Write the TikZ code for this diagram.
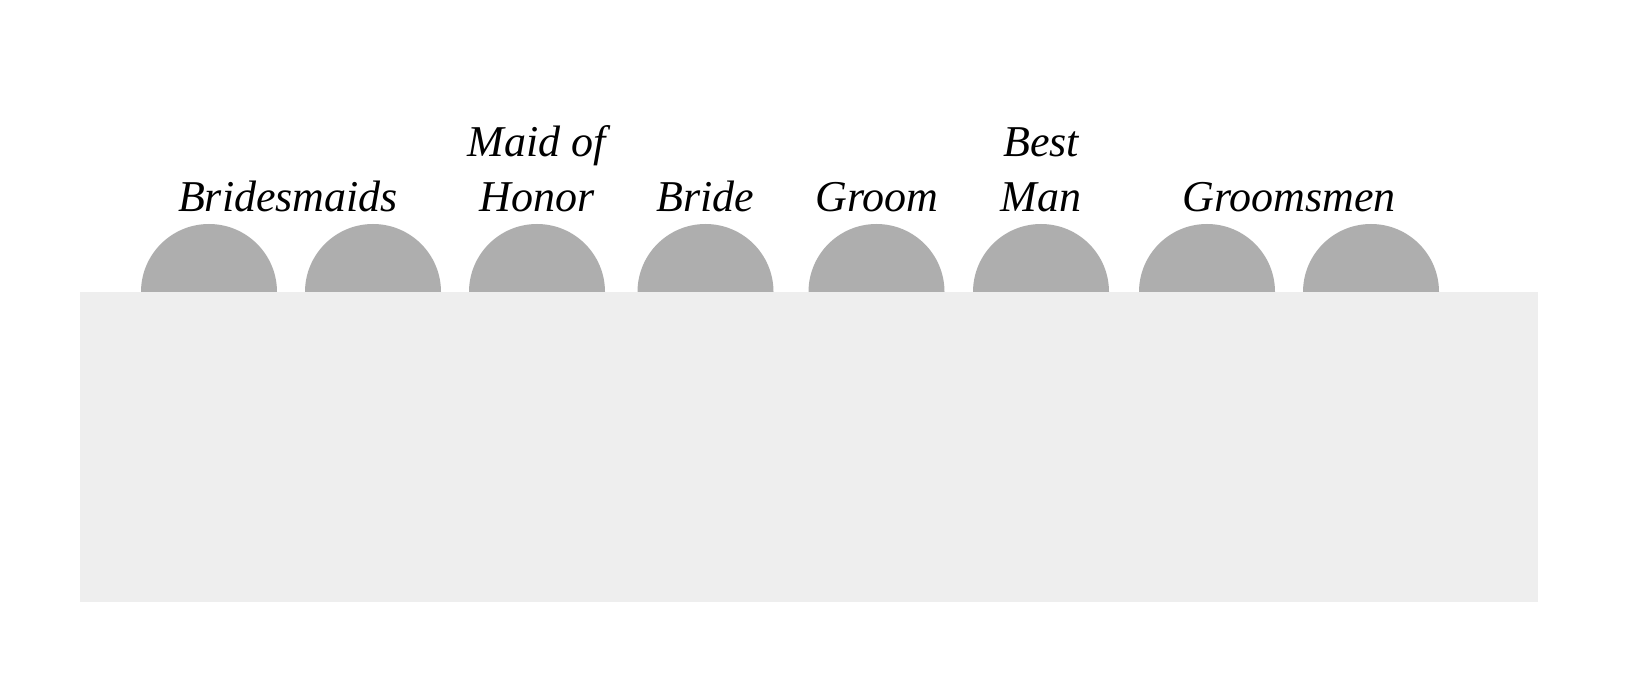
\documentclass[tikz,border=0pt]{standalone}
\usepackage{fontspec}
\setmainfont{Liberation Serif}
\definecolor{seatgray}{HTML}{AEAEAE}
\definecolor{tablegray}{HTML}{EEEEEE}
\tikzset{
  seat/.style={fill=seatgray, draw=none},
  tablebox/.style={fill=tablegray, draw=none},
  lbl/.style={font=\fontsize{44}{55}\selectfont\itshape, inner sep=0pt, text depth=0pt, anchor=south, align=center}
}
\begin{document}
\begin{tikzpicture}[x=1pt,y=1pt]
\useasboundingbox (0,0) rectangle (1630,694);
\fill[white] (0,0) rectangle (1630,694);
% table
\fill[tablebox] (80,92) rectangle (1537.5,402);
% seats
\foreach \cx in {209,373,537,705.5,876.5,1041,1207,1371}{
  \fill[seat] (\cx-68,402) arc[start angle=180,end angle=0,radius=68] -- cycle;
}
% labels
\node[lbl] (bm) at (288,482) {Bridesmaids};
\node[lbl] (moh) at (537,482) {Maid of\\Honor};
\node[lbl] (bride) at (705.5,482) {Bride};
\node[lbl] (groom) at (877,482) {Groom};
\node[lbl] (best) at (1041,482) {Best\\Man};
\node[lbl] (gm) at (1289,482) {Groomsmen};
\end{tikzpicture}
\end{document}
